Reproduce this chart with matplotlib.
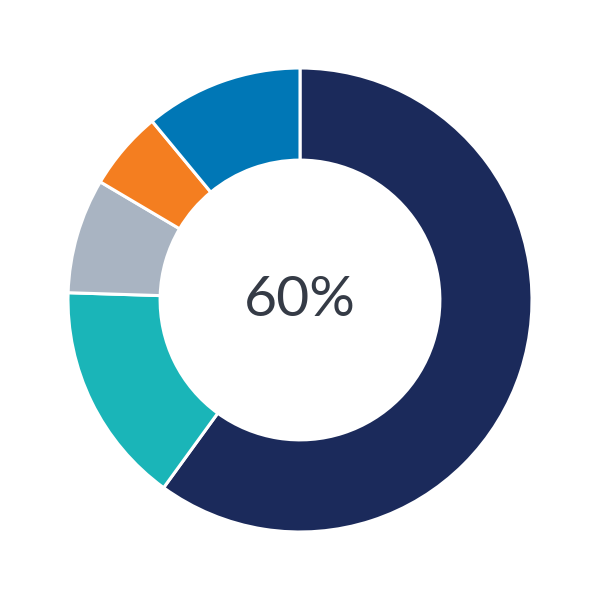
import matplotlib
matplotlib.use("Agg")
import matplotlib.pyplot as plt

labels = ["Navy", "Teal", "Gray", "Orange", "Blue"]
values = [60, 15.5, 8, 5.5, 11]
colors = ["#1b2a5b", "#1ab5b8", "#a9b4c2", "#f47e20", "#0077b6"]
center_text = "60%"

fig = plt.figure(figsize=(6, 6), dpi=100)
ax = fig.add_axes([0, 0, 1, 1])
ax.pie(values, colors=colors, startangle=90, counterclock=False,
       radius=1.0,
       wedgeprops=dict(width=0.397, edgecolor="white", linewidth=2.2))
ax.text(0, 0.02, center_text, ha="center", va="center_baseline", fontsize=41,
        family=["Lato", "DejaVu Sans"], fontweight="normal", color="#353b46")
lim = 300 / 232
ax.set_xlim(-lim, lim)
ax.set_ylim(-lim, lim)
ax.set_aspect("equal")
ax.axis("off")
fig.savefig("out.png", dpi=100, facecolor="white")
